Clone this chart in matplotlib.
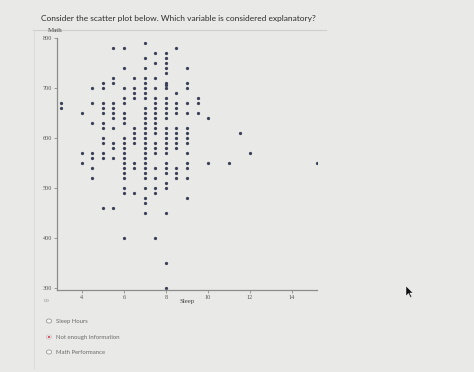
import matplotlib
matplotlib.use("Agg")
import matplotlib.pyplot as plt
from matplotlib.patches import Circle, Polygon
from matplotlib.lines import Line2D

# sleep hours (x) and the math scores seen at each of them (y)
sleep_hours = [3, 4, 4.5, 5, 5.5, 6, 6.5, 7, 7.5, 8, 8.5, 9, 9.5, 10, 11, 11.5, 12, 15.2]
math_by_sleep = [
    [670, 660],
    [650, 570, 550],
    [700, 670, 630, 570, 560, 540, 520],
    [710, 700, 670, 660, 650, 630, 620, 600, 590, 570, 560, 460],
    [780, 720, 710, 670, 660, 650, 640, 620, 590, 580, 560, 460],
    [780, 740, 700, 680, 670, 650, 640, 630, 600, 590, 580, 570, 560, 550, 540, 530, 520, 500, 490, 400],
    [720, 700, 690, 680, 620, 610, 600, 590, 550, 540, 490],
    [790, 760, 740, 720, 710, 700, 690, 680, 660, 650, 640, 630, 620, 610, 600, 590, 580, 570, 560,
     550, 540, 530, 520, 500, 480, 470, 450],
    [770, 750, 720, 700, 680, 670, 660, 650, 640, 630, 620, 610, 590, 580, 570, 540, 520, 500, 490, 400],
    [770, 760, 750, 740, 730, 710, 705, 700, 680, 670, 660, 650, 640, 620, 610, 600, 590, 580, 570,
     550, 540, 530, 510, 500, 450, 350, 300],
    [780, 690, 670, 660, 650, 620, 610, 600, 590, 580, 540, 530, 520],
    [740, 710, 700, 670, 650, 620, 610, 600, 590, 570, 550, 540, 520, 480],
    [680, 670, 650],
    [640, 550],
    [550],
    [610],
    [570],
    [550],
]
y_ticks = [300, 400, 500, 600, 700, 800]
x_ticks = [4, 6, 8, 10, 12, 14]

question = "Consider the scatter plot below. Which variable is considered explanatory?"
choices = ["Sleep Hours", "Not enough Information", "Math Performance"]
picked = 1

xs, ys = [], []
for h, scores in zip(sleep_hours, math_by_sleep):
    for s in scores:
        xs.append(h)
        ys.append(s)

W, H = 474, 372
bg = "#e9e9e7"
fig = plt.figure(figsize=(W / 100, H / 100), dpi=100, facecolor=bg)

def fx(px):
    return px / W

def fy(py):
    return 1 - py / H

# faint panel frame
fig.add_artist(Line2D([fx(33), fx(326)], [fy(30), fy(30)], color="#cfcfcd", lw=0.8))
fig.add_artist(Line2D([fx(34), fx(34)], [fy(30), fy(368)], color="#dcdcda", lw=0.8))

fig.text(fx(41), fy(18), question, fontsize=6.0, family="Lato", color="#2d2d2d", va="center")

ax = fig.add_axes([fx(57), fy(290), fx(317) - fx(57), fy(38) - fy(290)])
ax.set_facecolor(bg)
ax.scatter(xs, ys, s=5.5, marker="o", color="#3a4058", linewidths=0)
ax.set_xlim(2.81, 15.19)
ax.set_ylim(296, 800)
for side in ["top", "right"]:
    ax.spines[side].set_visible(False)
for side in ["left", "bottom"]:
    ax.spines[side].set_color("#8c8c8c")
    ax.spines[side].set_linewidth(0.9)
ax.set_xticks(x_ticks)
ax.set_yticks(y_ticks)
ax.tick_params(axis="both", length=2, width=0.6, color="#8c8c8c", labelsize=4.5,
               labelcolor="#555555", pad=1.5)
for lab in ax.get_xticklabels() + ax.get_yticklabels():
    lab.set_family("Liberation Serif")

fig.text(fx(55), fy(31), "Math", fontsize=5, family="Liberation Serif", color="#444444", ha="center", va="center")
fig.text(fx(187), fy(302), "Sleep", fontsize=5, family="Liberation Serif", color="#444444", ha="center", va="center")
fig.text(fx(47), fy(300), "oo", fontsize=4, family="Liberation Serif", color="#888888", ha="center", va="center")

# answer choices
for i, c in enumerate(choices):
    yy = [321, 337, 352][i]
    if i == picked:
        fig.add_artist(Circle((fx(49), fy(yy)), 2.6 / W, transform=fig.transFigure,
                              facecolor="#f6f6f6", edgecolor="#c9c9c9", lw=0.6))
        fig.add_artist(Circle((fx(49), fy(yy)), 1.3 / W, transform=fig.transFigure,
                              facecolor="#d9485f", edgecolor="none"))
    else:
        fig.add_artist(Circle((fx(49), fy(yy)), 2.6 / W, transform=fig.transFigure,
                              facecolor="#f6f6f6", edgecolor="#9a9a9a", lw=0.6))
    fig.text(fx(56), fy(yy), c, fontsize=4.3, family="Lato", color="#6a6a6a", va="center")

# mouse pointer
pts = [(406, 286), (406, 296), (408.5, 293.5), (410.5, 297.5), (411.8, 296.8), (409.8, 293), (413, 293)]
fig.add_artist(Polygon([(fx(a), fy(b)) for a, b in pts], closed=True, transform=fig.transFigure,
                       facecolor="#111111", edgecolor="#ffffff", lw=0.3))

fig.savefig("out.png", dpi=100, facecolor=bg)
